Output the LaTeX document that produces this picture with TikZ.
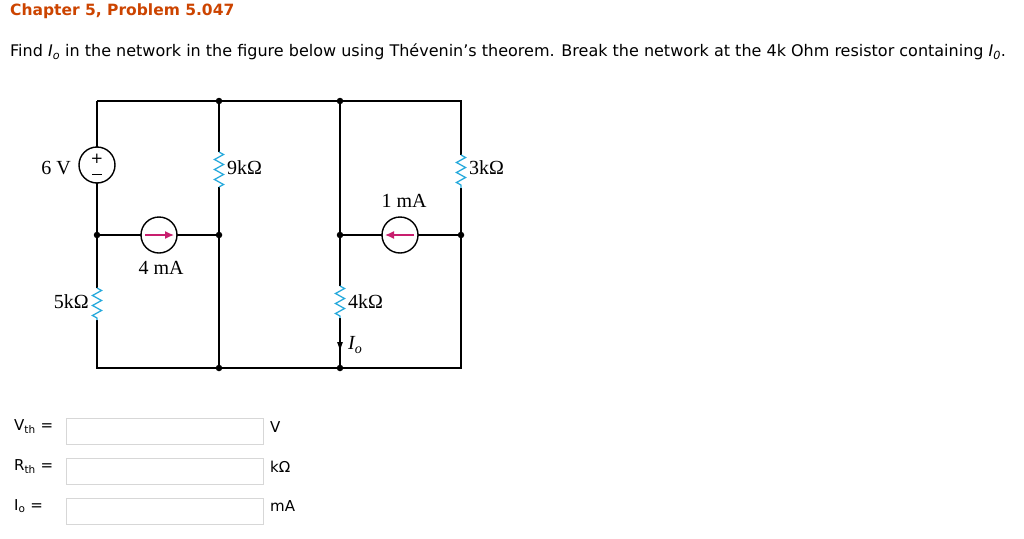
\documentclass[tikz,border=0pt]{standalone}
\usepackage{fontspec}
\setmainfont{DejaVu Sans}
\newfontfamily\ckt{Liberation Serif}
\usetikzlibrary{decorations.pathmorphing,arrows.meta}
\definecolor{ttl}{RGB}{204,68,0}
\definecolor{res}{RGB}{40,170,220}
\definecolor{mag}{RGB}{200,30,110}
\definecolor{boxc}{RGB}{215,215,215}
\begin{document}
\begin{tikzpicture}[x=1pt,y=-1pt,
  wire/.style={line width=1.8pt},
  resz/.style={res,line width=1.3pt,decorate,decoration={zigzag,segment length=10,amplitude=4.5}},
  dot/.style={circle,fill=black,inner sep=0pt,minimum size=6.5pt},
  src/.style={circle,draw,line width=1.4pt,fill=white,minimum size=36pt,inner sep=0pt},
  lab/.style={font=\ckt\fontsize{20}{20}\selectfont,inner sep=1pt},
  txt/.style={font=\fontsize{15}{17}\selectfont,anchor=west,inner sep=0pt},
  ansbox/.style={draw=boxc,line width=0.8pt,minimum width=197pt,minimum height=26pt,anchor=north west,inner sep=0pt}]
\useasboundingbox (0,0) rectangle (1024,538);
\node[txt,font=\bfseries\fontsize{15.5}{17}\selectfont,text=ttl] (title) at (10,11) {Chapter 5, Problem 5.047};
\node[txt,font=\fontsize{16}{17}\selectfont] (q) at (10,52) {Find \textit{I\textsubscript{o}} in the network in the figure below using Thévenin’s theorem. Break the network at the 4k Ohm resistor containing \textit{I\textsubscript{0}}.};
\coordinate (TL) at (97,101); \coordinate (TR) at (461,101);
\coordinate (BL) at (97,368); \coordinate (BR) at (461,368);
\node[dot] (t2) at (219,101) {}; \node[dot] (t3) at (340,101) {};
\node[dot] (m1) at (97,235) {}; \node[dot] (m2) at (219,235) {};
\node[dot] (m3) at (340,235) {}; \node[dot] (m4) at (461,235) {};
\node[dot] (b2) at (219,368) {}; \node[dot] (b3) at (340,368) {};
\coordinate (r9a) at (219,152); \coordinate (r9b) at (219,187);
\coordinate (r3a) at (461,155); \coordinate (r3b) at (461,188);
\coordinate (r5a) at (97,288); \coordinate (r5b) at (97,320);
\coordinate (r4a) at (340,286); \coordinate (r4b) at (340,318);
\draw[wire] (TL) -- (TR) -- (r3a);
\draw[wire] (r3b) -- (m4) -- (BR) -- (BL) -- (r5b);
\draw[wire] (r5a) -- (m1) -- (TL);
\draw[wire] (t2) -- (r9a); \draw[wire] (r9b) -- (m2) -- (b2);
\draw[wire] (t3) -- (m3) -- (r4a); \draw[wire] (r4b) -- (b3);
\draw[wire] (m1) -- (m2); \draw[wire] (m3) -- (m4);
\draw[resz] (r9a) -- (r9b); \draw[resz] (r3a) -- (r3b);
\draw[resz] (r5a) -- (r5b); \draw[resz] (r4a) -- (r4b);
\node[src] (vs) at (97,165) {};
\node[font=\fontsize{15}{15}\selectfont,inner sep=0pt] at (97,159) {+};
\draw[line width=1pt] (92,174) -- (102,174);
\node[src] (cs1) at (159,235) {};
\draw[mag,line width=1.4pt,-{Latex[length=9pt,width=8pt]}] (145,235) -- (174,235);
\node[src] (cs2) at (400,235) {};
\draw[mag,line width=1.4pt,-{Latex[length=9pt,width=8pt]}] (414,235) -- (385,235);
\draw[line width=1.4pt,-{Latex[length=10pt,width=6pt]}] (340,330) -- (340,352);
\node[lab,anchor=east] at (72,168) {6 V};
\node[lab,anchor=west] at (226,168) {9kΩ};
\node[lab,anchor=west] at (468,168) {3kΩ};
\node[lab] at (404,201) {1 mA};
\node[lab] at (161,268) {4 mA};
\node[lab,anchor=east] at (90,302) {5kΩ};
\node[lab,anchor=west] at (347,302) {4kΩ};
\node[lab,anchor=west] at (347,345) {\textit{I\textsubscript{o}}};
\node[txt] at (14,427) {V\textsubscript{th} =};
\node[txt] at (14,467) {R\textsubscript{th} =};
\node[txt] at (14,506) {I\textsubscript{o} =};
\node[ansbox] (b1) at (66,418) {};
\node[ansbox] (b2x) at (66,458) {};
\node[ansbox] (b3x) at (66,498) {};
\node[txt] at (270,427) {V};
\node[txt] at (270,467) {kΩ};
\node[txt] at (270,506) {mA};
\end{tikzpicture}
\end{document}
